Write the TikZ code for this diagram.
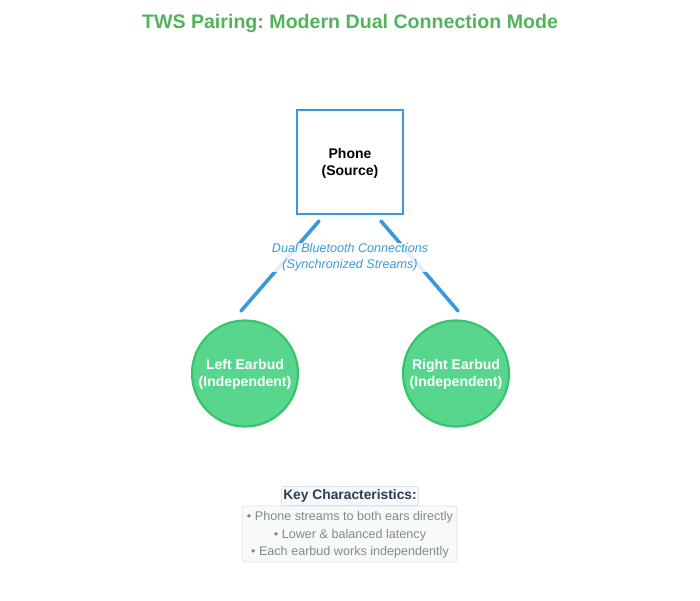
\documentclass[tikz,border=0pt]{standalone}
\usepackage{fontspec}
\setmainfont{Liberation Sans}
\frenchspacing
\begin{document}
\begin{tikzpicture}[x=1pt,y=1pt,
  phonebox/.style={draw=phoneblue,line width=2.2pt,fill=white,minimum width=106pt,minimum height=104pt,align=center,font=\fontsize{14}{17}\selectfont\bfseries},
  earbud/.style={circle,draw=budstroke,fill=budfill,line width=2.2pt,minimum size=106pt,align=center,text=white,font=\fontsize{14}{17}\selectfont\bfseries,inner sep=0pt},
  link/.style={draw=phoneblue,line width=3.6pt,line cap=round},
  lbl/.style={fill=white,fill opacity=0.85,text opacity=1,text=phoneblue,align=center,font=\fontsize{12.6}{16}\selectfont\itshape,inner sep=1pt},
  keybox/.style={draw=keyborder,fill=keyfill,rounded corners=3pt,line width=0.8pt},
  bullet/.style={text=keygray,font=\fontsize{12.6}{15}\selectfont}
]
\definecolor{phoneblue}{HTML}{3A9AD9}
\definecolor{budfill}{HTML}{58D68D}
\definecolor{budstroke}{HTML}{36C46F}
\definecolor{titlegreen}{HTML}{52B35A}
\definecolor{keyborder}{HTML}{DDE1E5}
\definecolor{keyfill}{HTML}{F8F9FA}
\definecolor{keydark}{HTML}{2C3E50}
\definecolor{keygray}{HTML}{7F8C8D}
\useasboundingbox (0,0) rectangle (700,600);
\fill[white] (0,0) rectangle (700,600);

\node[text=titlegreen,font=\fontsize{19.6}{22}\selectfont\bfseries] (title) at (350,576.5) {TWS Pairing: Modern Dual Connection Mode};

\node[phonebox] (phone) at (350,438) {\raisebox{-1.5pt}[\height][\depth]{\begin{tabular}{@{}c@{}}Phone\\(Source)\end{tabular}}};
\node[earbud] (left) at (245,226.5) {\raisebox{-1.5pt}[\height][\depth]{\begin{tabular}{@{}c@{}}Left Earbud\\(Independent)\end{tabular}}};
\node[earbud] (right) at (456,226.5) {\raisebox{-1.5pt}[\height][\depth]{\begin{tabular}{@{}c@{}}Right Earbud\\(Independent)\end{tabular}}};

\coordinate (l1) at (319,379);
\coordinate (l2) at (241,289);
\coordinate (r1) at (381,379);
\coordinate (r2) at (458,289);
\draw[link] (l1) -- (l2);
\draw[link] (r1) -- (r2);

\node[lbl] (conn) at (350,342.5) {Dual Bluetooth Connections\\(Synchronized Streams)};

\draw[keybox] (242,38) rectangle (457,94);
\node[keybox,draw,inner sep=2pt,minimum height=19pt,text=keydark,font=\fontsize{13.8}{16}\selectfont\bfseries] (keyt) at (350,104) {Key Characteristics:};
\node[bullet] (k1) at (350,82.5) {• Phone streams to both ears directly};
\node[bullet] (k2) at (350,64.5) {• Lower \& balanced latency};
\node[bullet] (k3) at (350,47.5) {• Each earbud works independently};
\end{tikzpicture}
\end{document}
